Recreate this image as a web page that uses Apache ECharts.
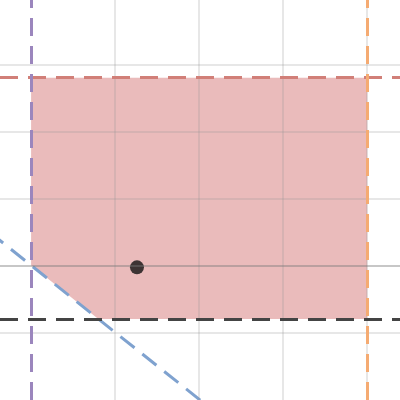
<!DOCTYPE html><html><head><meta charset="utf-8"><script src="https://cdn.jsdelivr.net/npm/echarts@6/dist/echarts.min.js"></script></head><body style="margin:0"><div id="c" style="width:400px;height:400px"></div><script>
const region=[[0,2.8],[4,2.8],[4,-0.8],[0.8,-0.8],[0,0]];
const point=[[1.26,-0.03]];
const xLine1=0, xLine2=4, yLine1=2.8, yLine2=-0.8;
const diag=[[-0.5,0.5],[4.5,-4.5]];
const gridX=[1,2,3,4], gridY=[-1,1,2,3];
const c=echarts.init(document.getElementById('c'));
const dash=(color)=>({color:color,width:3,type:[18,10]});
c.setOption({animation:false,
grid:{left:0,right:0,top:0,bottom:0},
xAxis:{type:'value',min:-0.37,max:4.39,show:false,splitLine:{show:false}},
yAxis:{type:'value',min:-2.01,max:3.96,show:false,splitLine:{show:false}},
series:[
{type:'custom',z:1,data:[0],renderItem:(p,api)=>({type:'polygon',shape:{points:region.map(d=>api.coord(d))},style:{fill:'rgba(205,92,92,0.42)'}})},
{type:'line',z:2,data:[],silent:true,markLine:{symbol:'none',silent:true,label:{show:false},lineStyle:{color:'rgba(150,150,150,0.3)',width:1.5,type:'solid'},
 data:gridX.map(v=>({xAxis:v})).concat(gridY.map(v=>({yAxis:v})))}},
{type:'line',z:2,data:[],silent:true,markLine:{symbol:'none',silent:true,label:{show:false},lineStyle:{color:'rgba(120,120,120,0.55)',width:1.5,type:'solid'},data:[{yAxis:0}]}},
{type:'line',z:3,data:diag,symbol:'none',lineStyle:dash('#7fa2cf')},
{type:'line',z:3,data:[],markLine:{symbol:'none',label:{show:false},data:[
 {yAxis:yLine1,lineStyle:dash('#d17f78')},{yAxis:yLine2,lineStyle:dash('#444444')},
 {xAxis:xLine1,lineStyle:dash('#9b86bd')},{xAxis:xLine2,lineStyle:dash('#f5ab72')}]}},
{type:'scatter',z:4,data:point,symbolSize:14,itemStyle:{color:'#111'}}
]});
</script></body></html>
